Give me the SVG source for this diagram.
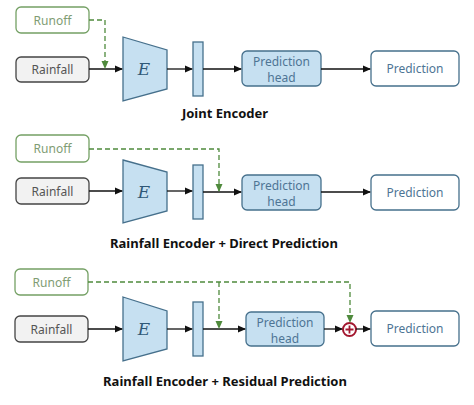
<svg xmlns="http://www.w3.org/2000/svg" width="474" height="405" viewBox="0 0 474 405">
<defs>
<marker id="ab" markerWidth="8" markerHeight="8" refX="7" refY="4" orient="auto" markerUnits="userSpaceOnUse"><path d="M0,0.5 L8,4 L0,7.5 Z" fill="#111"/></marker>
<marker id="ag" markerWidth="8" markerHeight="8" refX="7" refY="4" orient="auto" markerUnits="userSpaceOnUse"><path d="M0,0.5 L8,4 L0,7.5 Z" fill="#4f8a3c"/></marker>
<style>
.runoff rect{fill:#fff;stroke:#74a064;stroke-width:1.3}
.runoff text{fill:#7f9c73}
.rain rect{fill:#f2f2f2;stroke:#444;stroke-width:1.3}
.rain text{fill:#555}
.enc{fill:#c6e0f1;stroke:#46708c;stroke-width:1.3}
.head rect{fill:#c6e0f1;stroke:#46708c;stroke-width:1.3}
.pred rect{fill:#fff;stroke:#46708c;stroke-width:1.3}
.head text,.pred text{fill:#4e7595}
text{font-family:"Noto Sans","Open Sans",sans-serif;font-size:12px;text-anchor:middle}
.E{font-family:"DejaVu Serif","Liberation Serif",serif;font-style:italic;font-size:17px;fill:#2f5877}
.title{font-family:"Noto Sans","Open Sans",sans-serif;font-weight:bold;font-size:13px;fill:#111}
.ln{stroke:#111;stroke-width:1.3;fill:none}
.dash{stroke:#4f8a3c;stroke-width:1.3;fill:none;stroke-dasharray:5,3}
</style>
</defs>

<!-- Panel 1 -->
<g id="p1-runoff" class="runoff"><rect x="16" y="7" width="73" height="26" rx="5"/><text x="52.5" y="24.5">Runoff</text></g>
<g id="p1-rainfall" class="rain"><rect x="16" y="57" width="73" height="25" rx="5"/><text x="52.5" y="74">Rainfall</text></g>
<g id="p1-encoder"><path class="enc" d="M123,37 L167,50 L167,89 L123,101 Z"/><text class="E" x="144" y="75">E</text></g>
<g id="p1-bar"><rect class="enc" x="193" y="42" width="10" height="54"/></g>
<g id="p1-head" class="head"><rect x="242" y="51" width="79" height="35" rx="5"/><text x="281.5" y="65.5">Prediction</text><text x="281.5" y="81.5">head</text></g>
<g id="p1-pred" class="pred"><rect x="371" y="51" width="88" height="35" rx="5"/><text x="415" y="73">Prediction</text></g>
<text id="p1-title" class="title" x="225" y="118">Joint Encoder</text>

<!-- Panel 2 -->
<g id="p2-runoff" class="runoff"><rect x="16" y="135" width="73" height="27" rx="5"/><text x="52.5" y="153">Runoff</text></g>
<g id="p2-rainfall" class="rain"><rect x="16" y="178" width="73" height="26" rx="5"/><text x="52.5" y="195.5">Rainfall</text></g>
<g id="p2-encoder"><path class="enc" d="M123,160 L167,172 L167,211 L123,223 Z"/><text class="E" x="144" y="198">E</text></g>
<g id="p2-bar"><rect class="enc" x="193" y="165" width="10" height="54"/></g>
<g id="p2-head" class="head"><rect x="242" y="175" width="79" height="35" rx="5"/><text x="281.5" y="189.5">Prediction</text><text x="281.5" y="205.5">head</text></g>
<g id="p2-pred" class="pred"><rect x="371" y="175" width="88" height="35" rx="5"/><text x="415" y="197">Prediction</text></g>
<text id="p2-title" class="title" x="224" y="248">Rainfall Encoder + Direct Prediction</text>

<!-- Panel 3 -->
<g id="p3-runoff" class="runoff"><rect x="15" y="269" width="73" height="26" rx="5"/><text x="51.5" y="286.5">Runoff</text></g>
<g id="p3-rainfall" class="rain"><rect x="15" y="316" width="73" height="26" rx="5"/><text x="51.5" y="333.5">Rainfall</text></g>
<g id="p3-encoder"><path class="enc" d="M123,297 L167,311 L167,349 L123,361 Z"/><text class="E" x="144" y="335">E</text></g>
<g id="p3-bar"><rect class="enc" x="193" y="302" width="10" height="54"/></g>
<g id="p3-head" class="head"><rect x="246" y="312" width="78" height="34" rx="5"/><text x="285" y="326.5">Prediction</text><text x="285" y="342.5">head</text></g>
<g id="p3-add"><circle cx="349.5" cy="329.5" r="6.5" fill="#fff" stroke="#a3172f" stroke-width="2"/><path d="M345.5,329.5 H353.5 M349.5,325.5 V333.5" stroke="#a3172f" stroke-width="1.8"/></g>
<g id="p3-pred" class="pred"><rect x="371" y="311" width="88" height="35" rx="5"/><text x="415" y="333">Prediction</text></g>
<text id="p3-title" class="title" x="225" y="386">Rainfall Encoder + Residual Prediction</text>

<g id="connectors">
<!-- panel 1 -->
<path class="ln" d="M89,69 H122" marker-end="url(#ab)"/>
<path class="ln" d="M167,69 H192" marker-end="url(#ab)"/>
<path class="ln" d="M203,69 H241" marker-end="url(#ab)"/>
<path class="ln" d="M321,69 H370" marker-end="url(#ab)"/>
<path class="dash" d="M89,20 H105 V68" marker-end="url(#ag)"/>
<!-- panel 2 -->
<path class="ln" d="M89,191 H122" marker-end="url(#ab)"/>
<path class="ln" d="M167,191 H192" marker-end="url(#ab)"/>
<path class="ln" d="M203,192 H241" marker-end="url(#ab)"/>
<path class="ln" d="M321,192 H370" marker-end="url(#ab)"/>
<path class="dash" d="M89,149 H219 V191" marker-end="url(#ag)"/>
<!-- panel 3 -->
<path class="ln" d="M88,329 H122" marker-end="url(#ab)"/>
<path class="ln" d="M167,329 H192" marker-end="url(#ab)"/>
<path class="ln" d="M203,329 H245" marker-end="url(#ab)"/>
<path class="ln" d="M324,329 H342" marker-end="url(#ab)"/>
<path class="ln" d="M356,329 H370" marker-end="url(#ab)"/>
<path class="dash" d="M88,282 H350 V322" marker-end="url(#ag)"/>
<path class="dash" d="M219,282 V328" marker-end="url(#ag)"/>
</g>
</svg>
